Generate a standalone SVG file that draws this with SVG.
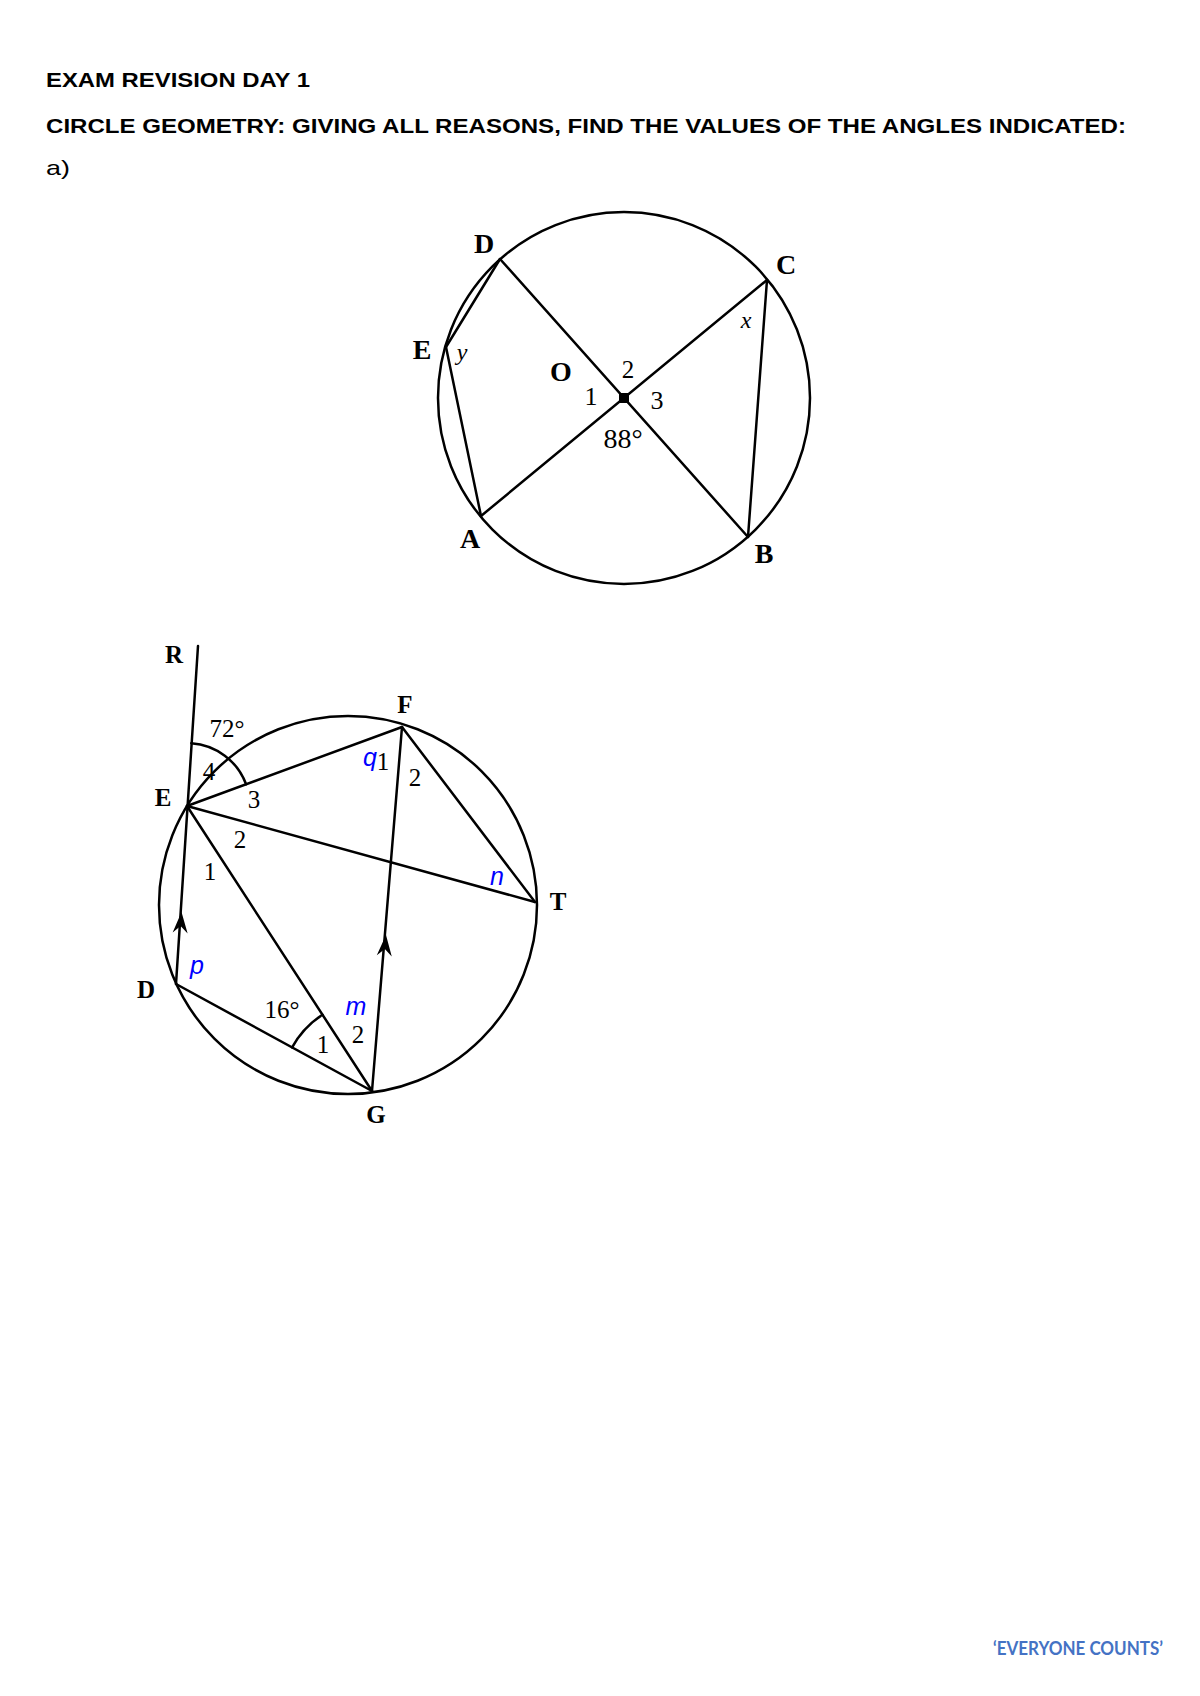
<svg xmlns="http://www.w3.org/2000/svg" width="1200" height="1696" viewBox="0 0 1200 1696">
<style>
.hdr{font-family:"Liberation Sans",Arial,sans-serif;font-size:20px;font-weight:bold;fill:#000}
.hdr2{font-family:"Liberation Sans",Arial,sans-serif;font-size:21px;fill:#000}
.ln{stroke:#000;stroke-width:2.5;fill:none;stroke-linecap:round}
.lbl{font-family:"Liberation Serif","Times New Roman",serif;font-weight:bold;fill:#000;text-anchor:middle}
.num{font-family:"Liberation Serif","Times New Roman",serif;fill:#000;text-anchor:middle}
.it{font-family:"Liberation Serif","Times New Roman",serif;font-style:italic;fill:#000;text-anchor:middle}
.blue{font-family:"Liberation Sans",Arial,sans-serif;font-style:italic;fill:#0000FF;text-anchor:middle;font-size:25px}
.foot{font-family:Lato,"Open Sans",sans-serif;font-weight:bold;font-size:18px;fill:#4472C4}
</style>
<defs>
<path id="ah" d="M0,0 L-7.5,21 L0,14 L7.5,21 Z" fill="#000"/>
</defs>
<rect width="1200" height="1696" fill="#fff"/>
<g id="header">
<text class="hdr" x="46" y="86.5" textLength="264" lengthAdjust="spacingAndGlyphs">EXAM REVISION DAY 1</text>
<text class="hdr" x="46" y="132.5" textLength="1080" lengthAdjust="spacingAndGlyphs">CIRCLE GEOMETRY: GIVING ALL REASONS, FIND THE VALUES OF THE ANGLES INDICATED:</text>
<text class="hdr2" x="46" y="175" textLength="24" lengthAdjust="spacingAndGlyphs">a)</text>
</g>
<g id="figure-a">
<g id="circle-a"><circle class="ln" cx="624" cy="398" r="186"/></g>
<g id="connectors-a">
<line class="ln" x1="500" y1="259" x2="748" y2="537"/>
<line class="ln" x1="767" y1="280" x2="481" y2="516"/>
<line class="ln" x1="446" y1="347" x2="500" y2="259"/>
<line class="ln" x1="446" y1="347" x2="481" y2="516"/>
<line class="ln" x1="767" y1="280" x2="748" y2="537"/>
</g>
<g id="node-O"><rect x="619" y="393" width="10" height="10" fill="#000"/><text class="lbl" x="561" y="381" font-size="28">O</text></g>
<g id="node-D"><text class="lbl" x="484" y="253" font-size="28">D</text></g>
<g id="node-C"><text class="lbl" x="786" y="274" font-size="28">C</text></g>
<g id="node-E"><text class="lbl" x="422" y="359" font-size="28">E</text></g>
<g id="node-A"><text class="lbl" x="470" y="548" font-size="28">A</text></g>
<g id="node-B"><text class="lbl" x="764" y="563" font-size="28">B</text></g>
<g id="labels-a">
<text class="it" x="462" y="360" font-size="24">y</text>
<text class="it" x="746" y="328" font-size="24">x</text>
<text class="num" x="628" y="378" font-size="25">2</text>
<text class="num" x="591" y="405" font-size="26">1</text>
<text class="num" x="657" y="409" font-size="26">3</text>
<text class="num" x="623" y="448" font-size="28">88°</text>
</g>
</g>
<g id="figure-b">
<g id="circle-b"><circle class="ln" cx="348" cy="905" r="189"/></g>
<g id="connectors-b">
<line class="ln" x1="198" y1="646" x2="176" y2="984"/>
<line class="ln" x1="187" y1="806" x2="402" y2="727"/>
<line class="ln" x1="187" y1="806" x2="535" y2="902"/>
<line class="ln" x1="187" y1="806" x2="372" y2="1091"/>
<line class="ln" x1="402" y1="727" x2="535" y2="902"/>
<line class="ln" x1="402" y1="727" x2="372" y2="1091"/>
<line class="ln" x1="176" y1="984" x2="372" y2="1091"/>
<path class="ln" d="M191.3,743.2 A63,63 0 0 1 246.1,784.3"/>
<path class="ln" d="M292.1,1047.4 A91,91 0 0 1 322.5,1014.7"/>
<use href="#ah" transform="translate(181.5,912) rotate(3.7)"/>
<use href="#ah" transform="translate(386,935) rotate(4.7)"/>
</g>
<g id="node-R"><text class="lbl" x="174" y="663" font-size="25">R</text></g>
<g id="node-F"><text class="lbl" x="405" y="713" font-size="25">F</text></g>
<g id="node-E2"><text class="lbl" x="163" y="806" font-size="25">E</text></g>
<g id="node-T"><text class="lbl" x="558" y="910" font-size="25">T</text></g>
<g id="node-D2"><text class="lbl" x="146" y="998" font-size="25">D</text></g>
<g id="node-G"><text class="lbl" x="376" y="1123" font-size="25">G</text></g>
<g id="labels-b">
<text class="num" x="227" y="737" font-size="25">72°</text>
<text class="num" x="209" y="780" font-size="25">4</text>
<text class="num" x="254" y="808" font-size="25">3</text>
<text class="blue" x="370" y="766">q</text>
<text class="num" x="383" y="770" font-size="25">1</text>
<text class="num" x="415" y="786" font-size="25">2</text>
<text class="num" x="240" y="848" font-size="25">2</text>
<text class="num" x="210" y="880" font-size="25">1</text>
<text class="blue" x="497" y="885">n</text>
<text class="blue" x="197" y="974">p</text>
<text class="num" x="282" y="1018" font-size="25">16°</text>
<text class="blue" x="356" y="1015">m</text>
<text class="num" x="323" y="1053" font-size="25">1</text>
<text class="num" x="358" y="1043" font-size="25">2</text>
</g>
</g>
<g id="footer">
<text class="foot" x="993" y="1655" textLength="170" lengthAdjust="spacingAndGlyphs">‘EVERYONE COUNTS’</text>
</g>
</svg>
